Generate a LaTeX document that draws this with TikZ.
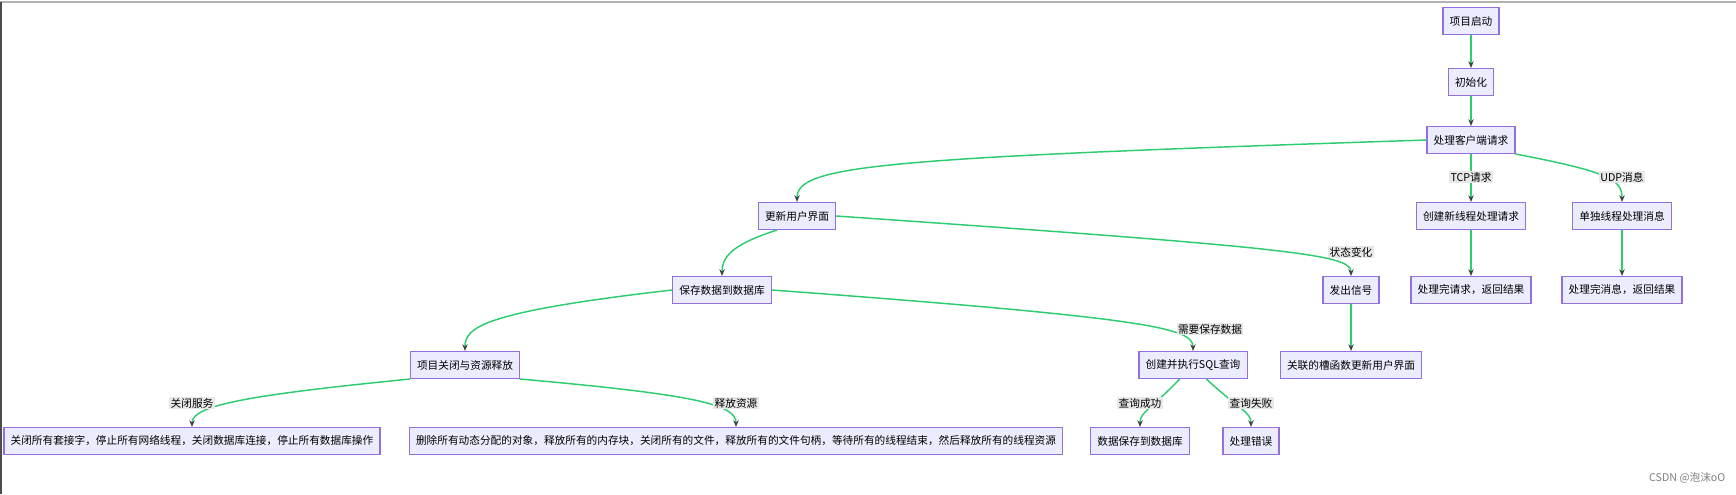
\documentclass[tikz,border=0pt]{standalone}
\usepackage{fontspec}
\newfontfamily\cjk{Noto Sans CJK SC}
\usetikzlibrary{arrows.meta}
\definecolor{nodefill}{HTML}{ECECFF}
\definecolor{nodeline}{HTML}{9370DB}
\definecolor{edge}{HTML}{2ECC71}
\definecolor{lblbg}{HTML}{E8E8E8}
\begin{document}
\begin{tikzpicture}[x=0.75pt,y=-0.75pt,
  box/.style={draw=nodeline,fill=nodefill,line width=0.8pt,minimum height=27*0.75pt,inner xsep=5pt,font=\cjk\fontsize{8}{9}\selectfont},
  lbl/.style={fill=lblbg,inner sep=1pt,font=\cjk\fontsize{8}{9}\selectfont},
  link/.style={draw=edge,line width=1.1pt,-{Stealth[length=5pt,width=4pt,color=black!75]}}]
\useasboundingbox[fill=white] (0,0) rectangle (1736,494);
\draw[gray!60,line width=1pt] (0,2) -- (1736,2);
\draw[black!70,line width=1pt] (1,2) -- (1,494);
\node[box] (s) at (1471,21) {项目启动};
\node[box] (i) at (1471,82) {初始化};
\node[box] (c) at (1471,140) {处理客户端请求};
\node[box] (tcp) at (1471,216) {创建新线程处理请求};
\node[box] (udp) at (1622,216) {单独线程处理消息};
\node[box] (td) at (1471,290) {处理完请求，返回结果};
\node[box] (ud) at (1622,290) {处理完消息，返回结果};
\node[box] (upd) at (797,216) {更新用户界面};
\node[box] (sig) at (1351,290) {发出信号};
\node[box] (slot) at (1351,365) {关联的槽函数更新用户界面};
\node[box] (save) at (722,290) {保存数据到数据库};
\node[box] (sql) at (1193,365) {创建并执行SQL查询};
\node[box] (close) at (465,365) {项目关闭与资源释放};
\node[box] (ds) at (1140,441) {数据保存到数据库};
\node[box] (err) at (1251,441) {处理错误};
\node[box] (k1) at (192,441) {关闭所有套接字，停止所有网络线程，关闭数据库连接，停止所有数据库操作};
\node[box] (k2) at (736,441) {删除所有动态分配的对象，释放所有的内存块，关闭所有的文件，释放所有的文件句柄，等待所有的线程结束，然后释放所有的线程资源};
\draw[link] (s) -- (i);
\draw[link] (i) -- (c);
\draw[link] (c) -- (tcp);
\draw[link] (tcp) -- (td);
\draw[link] (udp) -- (ud);
\draw[link] (sig) -- (slot);
\draw[link] (c.south east) .. controls (1610,172) and (1622,180) .. (udp.north);
\draw[link] (c.west) .. controls (880,158) and (797,165) .. (upd.north);
\draw[link] (upd.east) .. controls (1300,248) and (1351,255) .. (sig.north);
\draw[link] ([xshift=-15pt]upd.south) .. controls (730,245) and (722,258) .. (save.north);
\draw[link] (save.east) .. controls (1150,318) and (1193,328) .. (sql.north);
\draw[link] (save.west) .. controls (480,312) and (465,328) .. (close.north);
\draw[link] (close.south west) .. controls (250,395) and (192,405) .. (k1.north);
\draw[link] (close.south east) .. controls (700,395) and (736,405) .. (k2.north);
\draw[link] ([xshift=-10pt]sql.south) .. controls (1150,410) and (1140,412) .. (ds.north);
\draw[link] ([xshift=10pt]sql.south) .. controls (1240,410) and (1251,412) .. (err.north);
\node[lbl] at (1471,177) {TCP请求};
\node[lbl] at (1622,177) {UDP消息};
\node[lbl] at (1351,252) {状态变化};
\node[lbl] at (1210,329) {需要保存数据};
\node[lbl] at (192,403) {关闭服务};
\node[lbl] at (736,403) {释放资源};
\node[lbl] at (1140,403) {查询成功};
\node[lbl] at (1251,403) {查询失败};
\node[font=\cjk\fontsize{8}{9}\selectfont,text=black!50,anchor=east] at (1730,478) {CSDN @泡沫oO};
\end{tikzpicture}
\end{document}
